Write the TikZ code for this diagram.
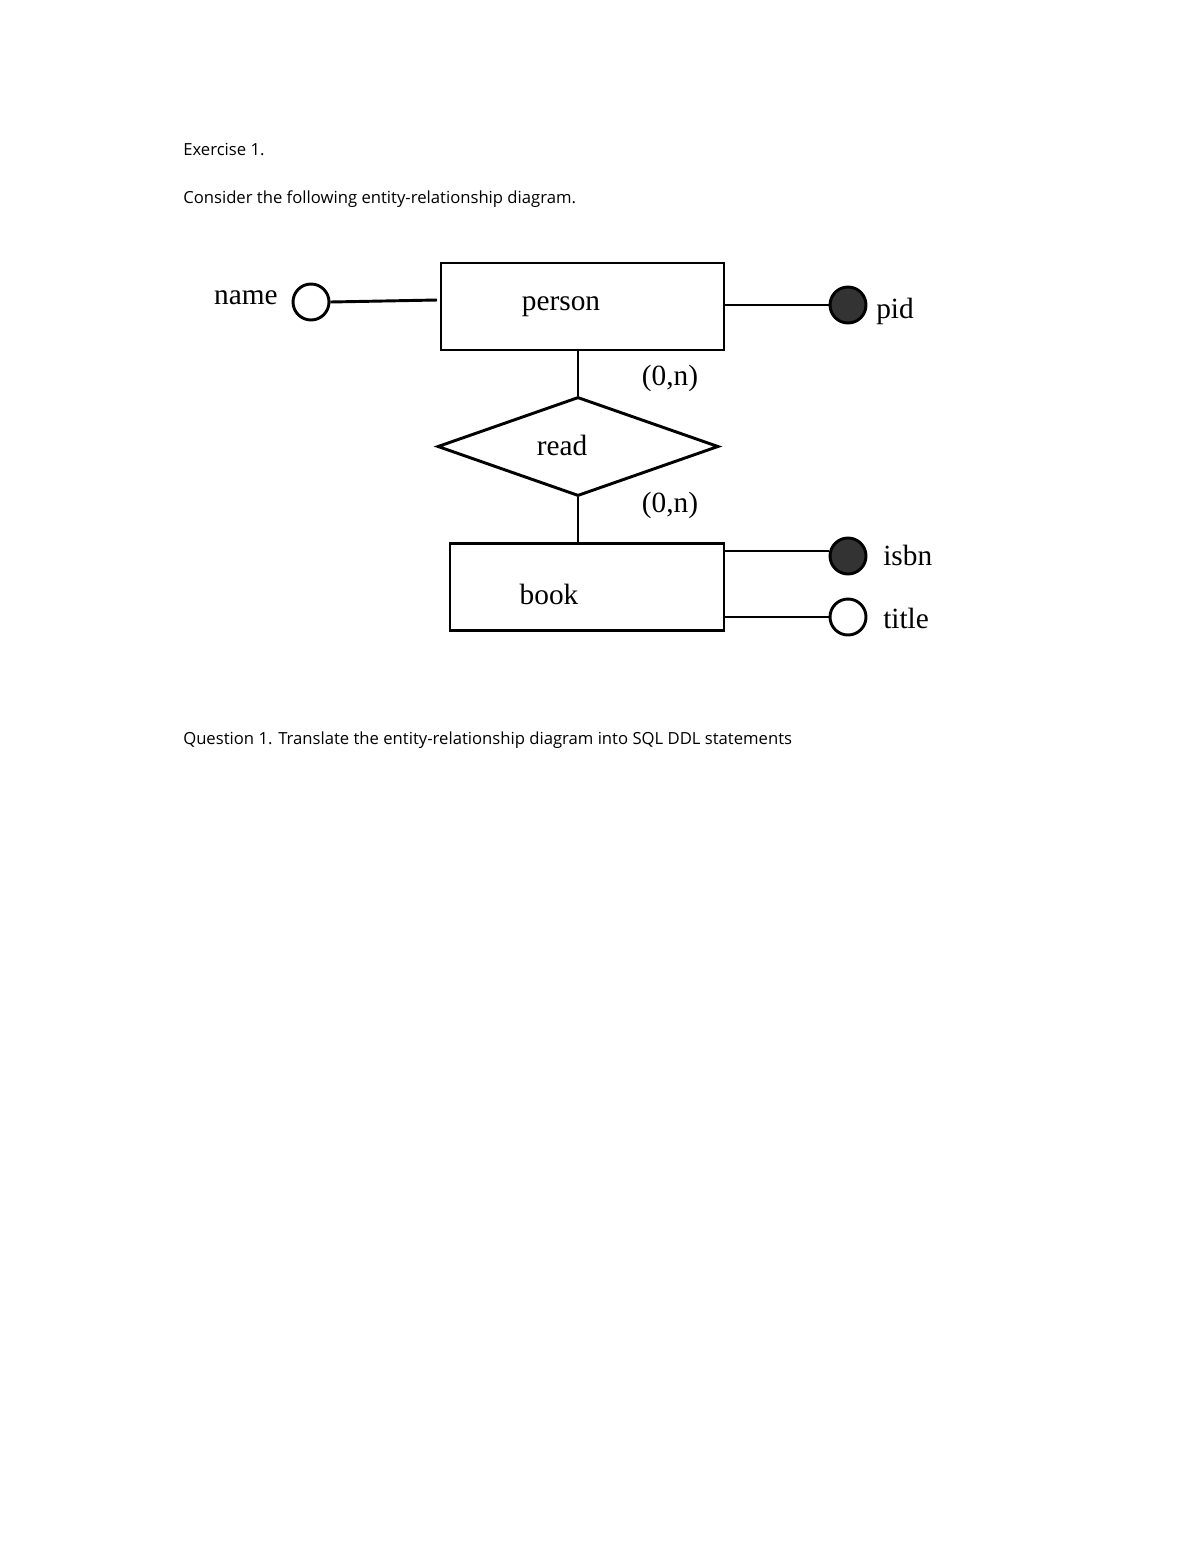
\documentclass[tikz,border=0pt]{standalone}
\usepackage{fontspec}
\setmainfont{Liberation Serif}
\newfontfamily\uifont{Open Sans}
\usetikzlibrary{shapes.geometric}
\begin{document}
\begin{tikzpicture}[x=0.75pt,y=-0.75pt,
  ent/.style={draw,line width=2.2pt,minimum width=283*0.75pt,minimum height=87*0.75pt,inner sep=0pt},
  rel/.style={draw,line width=2.2pt,diamond,aspect=2.84,minimum width=281*0.75pt,minimum height=99*0.75pt,inner sep=0pt},
  attr/.style={circle,draw,line width=2.2pt,minimum size=36*0.75pt,inner sep=0pt,fill=white},
  key/.style={attr,fill=black!80},
  conn/.style={line width=2.2pt},
  lab/.style={font=\fontsize{22}{26}\selectfont,inner sep=0pt},
  hdr/.style={font=\uifont\fontsize{12.5}{15}\selectfont,anchor=west,inner sep=0pt}]
\useasboundingbox (0,0) rectangle (1200,1553);
\node[hdr] (ex) at (183,149) {Exercise 1.};
\node[hdr] (cons) at (183,199) {Consider the following entity-relationship diagram.};
\node[hdr] (q) at (183,740) {Question 1. Translate the entity-relationship diagram into SQL DDL statements};

\node[ent] (person) at (582.5,306.5) {};
\node[lab] (personl) at (561,307) {person};
\node[rel] (read) at (578,446.5) {};
\node[lab] (readl) at (562,445) {read};
\node[ent,minimum width=274*0.75pt] (book) at (587,587) {};
\node[lab] (bookl) at (549,594) {book};

\node[attr] (name) at (311,302) {};
\node[lab,anchor=east] (namel) at (278,298) {name};
\node[key] (pid) at (848,305) {};
\node[lab,anchor=west] (pidl) at (876,311) {pid};
\node[key] (isbn) at (848,556) {};
\node[lab,anchor=west] (isbnl) at (883,555) {isbn};
\node[attr] (title) at (848,617) {};
\node[lab,anchor=west] (titlel) at (883,618) {title};

\node[lab] (c1) at (670,378) {(0,n)};
\node[lab] (c2) at (670,505) {(0,n)};

\coordinate (pl) at (437,300);
\draw[conn] (name.east) -- (pl);
\draw[conn] (person.east |- pid) -- (pid.west);
\draw[conn] (person.south -| read.north) -- (read.north);
\draw[conn] (read.south) -- (read.south |- book.north);
\draw[conn] (book.east |- 0,551) -- (isbn.west |- 0,551);
\draw[conn] (book.east |- title) -- (title.west);
\end{tikzpicture}
\end{document}
